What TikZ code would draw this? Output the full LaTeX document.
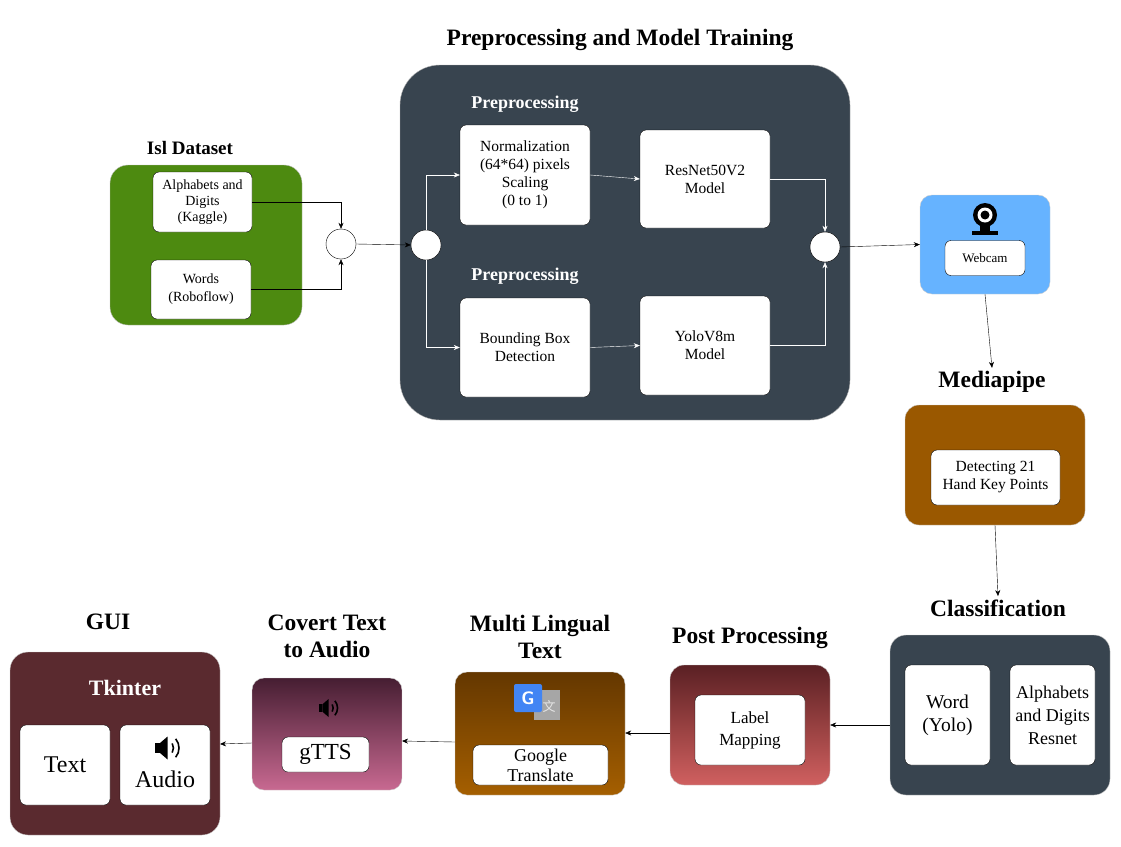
\documentclass[tikz,border=0pt]{standalone}
\usepackage{fontspec}
\setmainfont{Liberation Serif}
\newfontfamily\cjkf{Noto Sans CJK SC}
\usetikzlibrary{arrows.meta}
\definecolor{dark}{HTML}{38444F}
\definecolor{green1}{HTML}{4D8A10}
\definecolor{blue1}{HTML}{66B3FF}
\definecolor{brown1}{HTML}{9A5800}
\definecolor{gui}{HTML}{5A2A2F}
\definecolor{gblue}{HTML}{4285F4}
\definecolor{postT}{HTML}{5A2024}
\definecolor{postM}{HTML}{964040}
\definecolor{postB}{HTML}{D06060}
\definecolor{mlT}{HTML}{643700}
\definecolor{mlB}{HTML}{A55F00}
\definecolor{caT}{HTML}{461E32}
\definecolor{caB}{HTML}{C86991}
\begin{document}
\begin{tikzpicture}[x=1pt,y=-1pt,
  wb/.style={draw=black,fill=white,rounded corners=6pt,align=center,font=\fontsize{15.5}{18}\selectfont,inner sep=0pt},
  ttl/.style={font=\bfseries\fontsize{23.5}{27}\selectfont,align=center},
  wt/.style={font=\bfseries\fontsize{18}{21}\selectfont,text=white},
  circ/.style={circle,draw=black,fill=white,minimum size=30pt,inner sep=0pt},
  ar/.style={-{Stealth[length=6pt,width=5pt]}},
  wl/.style={draw=white,-{Stealth[length=6pt,width=5pt]}}]
\useasboundingbox (0,0) rectangle (1121,846);
\newcommand{\spk}[2]{\begin{scope}[shift={(#1)},scale=#2]
 \fill (-7,-4) rectangle (-3,4); \fill (-3,-4)--(4,-10)--(4,10)--(-3,4)--cycle;
 \draw[line width=1.6] (8,-4) arc (-30:30:8); \draw[line width=1.6] (11,-8) arc (-40:40:12.5);
 \end{scope}}
% Preprocessing block
\node[ttl] (t1) at (620,40) {Preprocessing and Model Training};
\node[fill=dark,draw=gray!60,rounded corners=40pt,minimum width=450pt,minimum height=355pt] (big) at (625,242.5) {};
\node[wt] (p1) at (525,104) {Preprocessing};
\node[wt] (p2) at (525,276) {Preprocessing};
\node[wb,minimum width=130pt,minimum height=100pt] (norm) at (525,175) {Normalization\\(64*64) pixels\\Scaling\\(0 to 1)};
\node[wb,minimum width=130pt,minimum height=98pt] (res) at (705,179) {ResNet50V2\\Model};
\node[wb,minimum width=130pt,minimum height=99pt] (bb) at (525,347.5) {Bounding Box\\Detection};
\node[wb,minimum width=130pt,minimum height=99pt] (yolo) at (705,345.5) {YoloV8m\\Model};
\node[circ] (c2) at (426,245) {};
\node[circ] (c3) at (825,247) {};
\draw[wl] (c2.north) |- (norm.west);
\draw[wl] (c2.south) |- (bb.west);
\draw[wl] (norm.east) -- (res.west);
\draw[wl] (bb.east) -- (yolo.west);
\draw[wl] (res.east) -| (c3.north);
\draw[wl] (yolo.east) -| (c3.south);
% ISL dataset
\node[font=\bfseries\fontsize{19}{22}\selectfont] (t2) at (190,148) {Isl Dataset};
\node[fill=green1,draw=gray!50,rounded corners=18pt,minimum width=192pt,minimum height=160pt] (green) at (206,245) {};
\node[wb,minimum width=99pt,minimum height=60pt,font=\fontsize{14}{16}\selectfont] (alph) at (202.5,202) {Alphabets and\\Digits\\(Kaggle)};
\node[wb,minimum width=100pt,minimum height=59pt,font=\fontsize{14}{18}\selectfont] (words) at (201,289.5) {Words\\(Roboflow)};
\node[circ] (c1) at (341,244) {};
\draw[ar] (alph.east) -| (c1.north);
\draw[ar] (words.east) -| (c1.south);
\draw[ar] (c1.east) -- (c2.west);
% Webcam
\node[fill=blue1,draw=gray!40,rounded corners=12pt,minimum width=130pt,minimum height=99pt] (cam) at (985,244.5) {};
\node[wb,minimum width=80pt,minimum height=35pt,font=\fontsize{13}{15}\selectfont] (camt) at (985,258) {Webcam};
\begin{scope}[shift={(985,215)}]
\fill (0,0) circle (12); \fill[white] (0,0) circle (7.5); \fill (0,0) circle (4.5);
\fill (-13,16) rectangle (13,20); \fill (-5,10) rectangle (5,16);
\end{scope}
\draw[ar] (c3.east) -- (cam.west);
% Mediapipe
\node[ttl] (t3) at (992,382) {Mediapipe};
\node[fill=brown1,draw=gray!40,rounded corners=14pt,minimum width=180pt,minimum height=120pt] (mp) at (995,465) {};
\node[wb,minimum width=129pt,minimum height=55pt] (mpt) at (995.5,477.5) {Detecting 21\\Hand Key Points};
\draw[ar] (cam.south) -- (t3.north);
% Classification
\node[ttl] (t4) at (998,608) {Classification};
\node[fill=dark,draw=gray!40,rounded corners=16pt,minimum width=220pt,minimum height=160pt] (cls) at (1000,715) {};
\node[wb,minimum width=85pt,minimum height=100pt,font=\fontsize{19.5}{23}\selectfont] (wy) at (947.5,715) {Word\\(Yolo)};
\node[wb,minimum width=85pt,minimum height=100pt,font=\fontsize{18}{23}\selectfont] (ad) at (1052.5,715) {Alphabets\\and Digits\\Resnet};
\draw[ar] (mp.south) -- (t4.north);
% Post processing
\node[ttl] (t5) at (750,638) {Post Processing};
\node[top color=postT,bottom color=postB,middle color=postM,draw=gray!40,rounded corners=14pt,minimum width=160pt,minimum height=120pt] (post) at (750,725) {};
\node[wb,minimum width=110pt,minimum height=70pt,font=\fontsize{17}{22}\selectfont] (lm) at (750,730) {Label\\Mapping};
\draw[ar] (cls.west|-0,725) -- (post.east|-0,725);
% Multi lingual
\node[ttl] (t6) at (540,637) {Multi Lingual\\Text};
\node[top color=mlT,bottom color=mlB,draw=gray!40,rounded corners=12pt,minimum width=170pt,minimum height=123pt] (ml) at (540,733.5) {};
\node[wb,minimum width=135pt,minimum height=40pt,font=\fontsize{18}{20}\selectfont] (gt) at (540.5,765) {Google\\Translate};
\begin{scope}[shift={(538,706)}]
\fill[gray!70] (-4,-16) rectangle (22,14);
\node[font=\cjkf\fontsize{13}{13}\selectfont,text=gray!20!white] at (11,0) {文};
\fill[rounded corners=2pt,gblue] (-24,-22) rectangle (4,6);
\node[font=\sffamily\bfseries\fontsize{18}{18}\selectfont,text=white] at (-10,-8) {G};
\end{scope}
\draw[ar] (post.west|-0,733) -- (ml.east|-0,733);
\draw[ar] (ml.west|-0,742) -- (402,741);
% Covert to audio
\node[ttl] (t7) at (327,636) {Covert Text\\to Audio};
\node[top color=caT,bottom color=caB,draw=gray!40,rounded corners=12pt,minimum width=150pt,minimum height=112pt] (ca) at (327,734) {};
\node[wb,minimum width=87pt,minimum height=35pt,font=\fontsize{23}{26}\selectfont] (gtts) at (325.5,754.5) {gTTS};
\spk{325,708}{0.9}
\draw[ar] (ca.west|-0,743) -- (220,744);
% GUI
\node[ttl] (t8) at (108,622) {GUI};
\node[fill=gui,draw=gray!40,rounded corners=18pt,minimum width=210pt,minimum height=183pt] (gui) at (115,743.5) {};
\node[font=\bfseries\fontsize{22}{26}\selectfont,text=white] (tk) at (125,688) {Tkinter};
\node[wb,minimum width=90pt,minimum height=80pt,font=\fontsize{24}{27}\selectfont] (txt) at (65,765) {Text};
\node[wb,minimum width=90pt,minimum height=80pt] (aud) at (165,765) {};
\node[font=\fontsize{24}{27}\selectfont] (audt) at (165,779) {Audio};
\spk{163,748}{1.15}
\end{tikzpicture}
\end{document}
